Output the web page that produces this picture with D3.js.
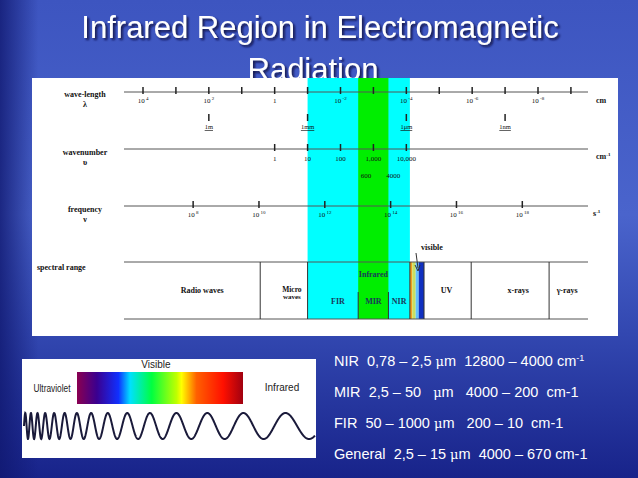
<!DOCTYPE html>
<html><head><meta charset="utf-8">
<script src="https://cdn.jsdelivr.net/npm/d3@7"></script>
<style>body{margin:0;overflow:hidden}svg{display:block}text{white-space:pre}</style>
</head><body>
<script>
// ---- data ----
const wlTicksExp = [4,3,2,1,0,-1,-2,-3,-4,-5,-6,-7,-8,-9];
const wlLabels = [{e:4,t:"10",s:"4"},{e:2,t:"10",s:"2"},{e:0,t:"1",s:""},{e:-2,t:"10",s:"-2"},{e:-4,t:"10",s:"-4"},{e:-6,t:"10",s:"-6"},{e:-8,t:"10",s:"-8"}];
const wlUnits = [{v:1e2,t:"1m"},{v:1e-1,t:"1mm"},{v:1e-4,t:"1μm"},{v:1e-7,t:"1nm"}];
const wnTicks = [{v:1,t:"1"},{v:10,t:"10"},{v:100,t:"100"},{v:1000,t:"1,000"},{v:10000,t:"10,000"}];
const wnExtra = [{v:600,t:"600"},{v:4000,t:"4000"}];
const freqExp = [8,10,12,14,16,18];
const bands = [{a:1e-1,b:7.8e-5,c:"#00ffff"},{a:2.9e-3,b:3.5e-4,c:"#00ee00"}];
const visBands = [{a:7.8e-5,b:6.6e-5,c:"#f0a020"},{a:6.6e-5,b:5.2e-5,c:"#c8e060"},{a:5.2e-5,b:4.2e-5,c:"#60c0ff"},{a:4.2e-5,b:2.9e-5,c:"#1030c0"}];
const dividers = [2.75,1e-1,7.8e-5,2.9e-5,1.07e-6,4.6e-9];
const subDividers = [2.9e-3,3.5e-4];
const regions = [{t:"Radio waves",v:1.6e2},{t:"UV",v:6e-6},{t:"x-rays",v:4e-8},{t:"γ-rays",v:1.3e-9}];
const subRegions = [{t:"FIR",v:1.2e-2},{t:"MIR",v:1.0e-3},{t:"NIR",v:1.65e-4}];
const infoLines = [
 ["NIR  0,78 – 2,5 ","μ","m  12800 – 4000 cm","-1"],
 ["MIR  2,5 – 50   ","μ","m   4000 – 200  cm-1",""],
 ["FIR  50 – 1000 ","μ","m   200 – 10  cm-1",""],
 ["General  2,5 – 15 ","μ","m  4000 – 670 cm-1",""]];
const spectrumStops = [["0","#8a0050"],["0.12","#3a0090"],["0.25","#1030ff"],["0.32","#00e0ff"],["0.45","#00ff40"],["0.6","#c0ff00"],["0.63","#ffff00"],["0.72","#ff6000"],["0.88","#ff1000"],["1","#a00010"]];
const wavePeriods = [5,50]; // px, left → right

// ---- setup ----
const W=638,H=478;
const svg=d3.select("body").append("svg").attr("width",W).attr("height",H);
const defs=svg.append("defs");
const bg=defs.append("linearGradient").attr("id","bg").attr("x1",0).attr("y1",0).attr("x2",0).attr("y2",1);
[["0","#3d55c0"],["0.45","#4a64cc"],["0.7","#3247b0"],["1","#18238a"]].forEach(s=>bg.append("stop").attr("offset",s[0]).attr("stop-color",s[1]));
const bgl=defs.append("linearGradient").attr("id","bgl").attr("x1",0).attr("y1",0).attr("x2",1).attr("y2",0);
[["0","#101870",0.8],["0.06","#101870",0],["1","#101870",0]].forEach(s=>bgl.append("stop").attr("offset",s[0]).attr("stop-color",s[1]).attr("stop-opacity",s[2]));
svg.append("rect").attr("width",W).attr("height",H).attr("fill","url(#bg)");
svg.append("rect").attr("width",W).attr("height",H).attr("fill","url(#bgl)");
const sh=defs.append("filter").attr("id","sh");
sh.append("feDropShadow").attr("dx",2).attr("dy",2).attr("stdDeviation",0.8).attr("flood-color","#101040").attr("flood-opacity",0.9);

// title
const tt=svg.append("g").attr("font-family","Liberation Sans, Arial").attr("font-size",31).attr("fill","#fff").attr("text-anchor","middle").attr("filter","url(#sh)");
tt.append("text").attr("x",320).attr("y",38).text("Infrared Region in Electromagnetic");
tt.append("text").attr("x",313).attr("y",80).text("Radiation");

// panel
svg.append("rect").attr("x",32).attr("y",78).attr("width",586).attr("height",258).attr("fill","#fff");

const x=d3.scaleLog().domain([1e4,1e-8]).range([143,538]);
const c=2.998e10;
svg.selectAll(".band").data(bands).join("rect").attr("x",d=>x(d.a)).attr("width",d=>x(d.b)-x(d.a)).attr("y",78).attr("height",241).attr("fill",d=>d.c);
svg.selectAll(".vb").data(visBands).join("rect").attr("x",d=>x(d.a)).attr("width",d=>x(d.b)-x(d.a)).attr("y",262).attr("height",57).attr("fill",d=>d.c);

const serif="Liberation Serif, DejaVu Serif, serif";
const g=svg.append("g").attr("font-family",serif).attr("font-weight","bold").attr("fill","#111");
const line=(y)=>g.append("line").attr("x1",124).attr("x2",588).attr("y1",y).attr("y2",y).attr("stroke","#555").attr("stroke-width",1);
function tick(xx,y){g.append("line").attr("x1",xx).attr("x2",xx).attr("y1",y-5).attr("y2",y+2).attr("stroke","#222").attr("stroke-width",1.5);}
function sup(xx,y,t,s,fs){const te=g.append("text").attr("x",xx).attr("y",y).attr("text-anchor","middle").attr("font-size",fs||7).attr("font-weight","normal");te.append("tspan").text(t);if(s)te.append("tspan").attr("dy",-3).attr("font-size",5).text(" "+s);}

const L=[["wave-length",97],["λ",107],["wavenumber",155],["υ",165],["frequency",212],["ν",222]];
L.forEach(d=>g.append("text").attr("x",85).attr("y",d[1]).attr("text-anchor","middle").attr("font-size",8).text(d[0]));
g.append("text").attr("x",37).attr("y",270).attr("font-size",8).text("spectral range");

line(92);
wlTicksExp.forEach(e=>tick(x(Math.pow(10,e)),92));
wlLabels.forEach(d=>sup(x(Math.pow(10,d.e)),103,d.t,d.s));
g.append("text").attr("x",596).attr("y",103).attr("font-size",8).text("cm");
wlUnits.forEach(d=>{tick(x(d.v),119);g.append("text").attr("x",x(d.v)).attr("y",129).attr("text-anchor","middle").attr("font-size",6.5).attr("font-weight","normal").attr("text-decoration","underline").text(d.t);});

line(149);
wnTicks.forEach(d=>{tick(x(1/d.v),149);sup(x(1/d.v),161,d.t,"");});
wnExtra.forEach(d=>sup(x(1/d.v),178,d.t,""));
const cm=g.append("text").attr("x",596).attr("y",159).attr("font-size",8);cm.append("tspan").text("cm");cm.append("tspan").attr("dy",-3).attr("font-size",5).text("-1");

line(206);
freqExp.forEach(e=>{const xx=x(c/Math.pow(10,e));tick(xx,206);sup(xx,217,"10",String(e));});
const s1=g.append("text").attr("x",593).attr("y",216).attr("font-size",8);s1.append("tspan").text("s");s1.append("tspan").attr("dy",-3).attr("font-size",5).text("-1");

line(262);line(319);
dividers.forEach(v=>g.append("line").attr("x1",x(v)).attr("x2",x(v)).attr("y1",262).attr("y2",319).attr("stroke","#333"));
subDividers.forEach(v=>g.append("line").attr("x1",x(v)).attr("x2",x(v)).attr("y1",292).attr("y2",319).attr("stroke","#333"));
regions.forEach(d=>g.append("text").attr("x",x(d.v)).attr("y",293).attr("text-anchor","middle").attr("font-size",8).text(d.t));
g.append("text").attr("x",x(0.3)).attr("y",292).attr("text-anchor","middle").attr("font-size",7.5).text("Micro");
g.append("text").attr("x",x(0.3)).attr("y",299).attr("text-anchor","middle").attr("font-size",7).text("waves");
g.append("text").attr("x",x(1e-3)).attr("y",277).attr("text-anchor","middle").attr("font-size",8).attr("fill","#1a3a5a").text("Infrared");
subRegions.forEach(d=>g.append("text").attr("x",x(d.v)).attr("y",304).attr("text-anchor","middle").attr("font-size",8).attr("fill","#1a3a5a").text(d.t));
g.append("text").attr("x",432).attr("y",250).attr("text-anchor","middle").attr("font-size",8).text("visible");
g.append("line").attr("x1",416).attr("x2",418).attr("y1",253).attr("y2",268).attr("stroke","#333");
g.append("path").attr("d","M415,265 L418,271 L420,265").attr("fill","none").attr("stroke","#333");

svg.append("rect").attr("x",22).attr("y",359).attr("width",294).attr("height",99).attr("fill","#fff");
const sg=defs.append("linearGradient").attr("id","spec");
spectrumStops.forEach(s=>sg.append("stop").attr("offset",s[0]).attr("stop-color",s[1]));
svg.append("rect").attr("x",77).attr("y",372).attr("width",166).attr("height",32).attr("fill","url(#spec)");
const bl=svg.append("g").attr("font-family","Liberation Sans Narrow, Liberation Sans, Arial").attr("font-size",10).attr("fill","#222").attr("transform","");
bl.append("text").attr("x",156).attr("y",368).attr("text-anchor","middle").text("Visible");
bl.append("text").attr("x",52).attr("y",392).attr("text-anchor","middle").attr("textLength",37).attr("lengthAdjust","spacingAndGlyphs").text("Ultraviolet");
bl.append("text").attr("x",282).attr("y",391).attr("text-anchor","middle").text("Infrared");
const wx=d3.scaleLinear().domain([0,1]).range([24,315]);
const per=d3.scaleLinear().domain([0,1]).range(wavePeriods);
let pts=[],ph=0,prev=0;
for(let i=0;i<=1200;i++){const t=i/1200;const xx=wx(t);ph+= (xx-prev)*(i?2*Math.PI/per(t):0);prev=xx;pts.push([xx,426-13*Math.sin(ph)]);}
svg.append("path").attr("d",d3.line()(pts)).attr("fill","none").attr("stroke","#1a1a3a").attr("stroke-width",2);

const it=svg.append("g").attr("font-family","Liberation Sans, Arial").attr("font-size",14.5).attr("fill","#fff");
infoLines.forEach((l,i)=>{const te=it.append("text").attr("x",334).attr("y",366+i*31);te.append("tspan").text(l[0]);te.append("tspan").attr("font-family","DejaVu Serif").attr("font-size",13).text(l[1]);te.append("tspan").text(l[2]);if(l[3])te.append("tspan").attr("dy",-5).attr("font-size",9).text(l[3]);});
</script>
</body></html>
